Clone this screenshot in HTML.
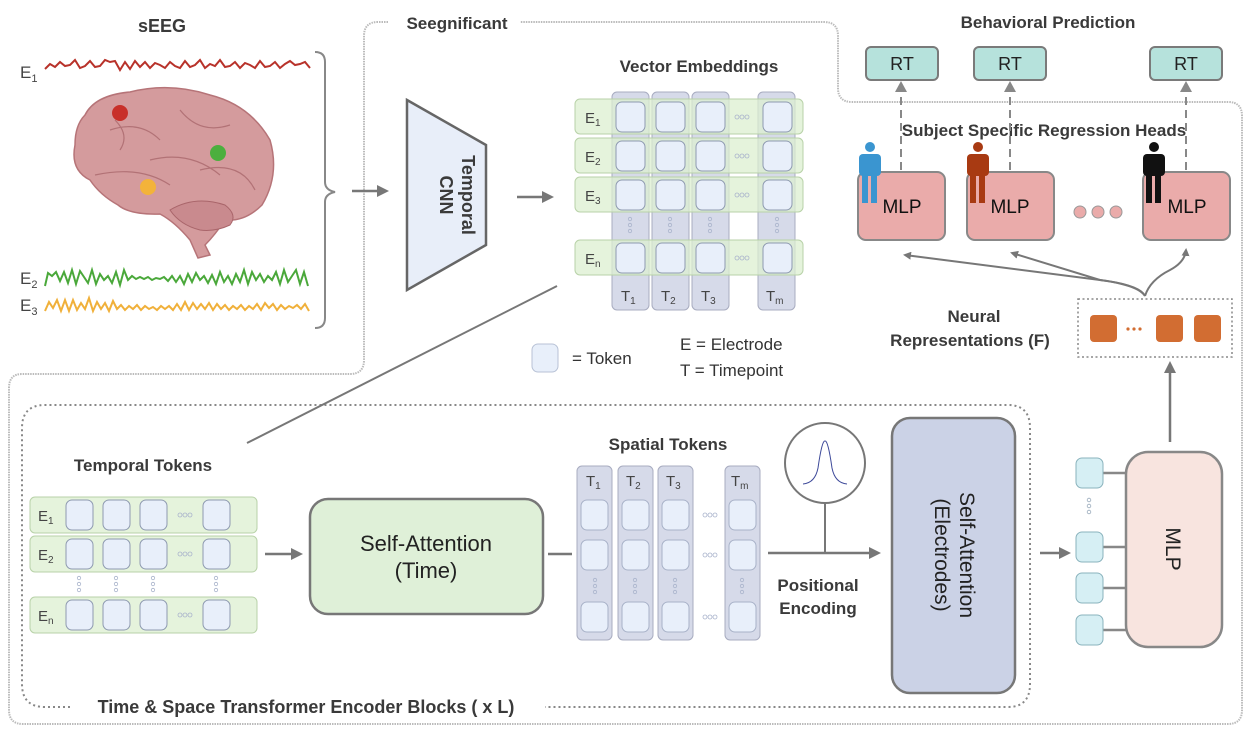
<!DOCTYPE html>
<html><head><meta charset="utf-8"><style>
html,body{margin:0;padding:0;background:#fff;}
svg{display:block;font-family:"Liberation Sans",sans-serif;}
.b{font-weight:bold;fill:#3a3a3a;}
</style></head><body>
<svg width="1252" height="745" viewBox="0 0 1252 745" xmlns="http://www.w3.org/2000/svg">
<defs>
<marker id="ar" markerWidth="8" markerHeight="8" refX="6" refY="4" orient="auto" markerUnits="userSpaceOnUse"><path d="M0,0 L8,4 L0,8 z" fill="#777"/></marker>
<marker id="ar2" markerWidth="12" markerHeight="12" refX="9" refY="6" orient="auto" markerUnits="userSpaceOnUse"><path d="M0,0 L12,6 L0,12 z" fill="#777"/></marker>
</defs>
<!-- outer frame -->
<path d="M388,22 L378,22 Q364,22 364,36 L364,360 Q364,374 350,374 L22,374 Q9,374 9,388 L9,710 Q9,724 23,724 L1228,724 Q1242,724 1242,710 L1242,116 Q1242,102 1228,102 L852,102 Q838,102 838,88 L838,36 Q838,22 824,22 L520,22" fill="none" stroke="#bbb" stroke-width="2" stroke-dasharray="1.5,1"/>
<text x="457" y="29" class="b" font-size="17" text-anchor="middle">Seegnificant</text>
<!-- inner dotted frame -->
<path d="M70,707 L45,707 Q22,707 22,684 L22,428 Q22,405 45,405 L1008,405 Q1030,405 1030,428 L1030,684 Q1030,707 1008,707 L545,707" fill="none" stroke="#888" stroke-width="2" stroke-dasharray="2,3"/>
<text x="306" y="713" class="b" font-size="18" text-anchor="middle">Time &amp; Space Transformer Encoder Blocks ( x L)</text>

<!-- sEEG -->
<text x="162" y="32" class="b" font-size="18" text-anchor="middle">sEEG</text>
<text x="20" y="78" font-size="17" fill="#444">E<tspan font-size="11" dy="4">1</tspan></text>
<text x="20" y="284" font-size="17" fill="#444">E<tspan font-size="11" dy="4">2</tspan></text>
<text x="20" y="311" font-size="17" fill="#444">E<tspan font-size="11" dy="4">3</tspan></text>
<polyline fill="none" stroke="#b8322a" stroke-width="2" points="45,69 50,64 55,67 60,62 65,66 70,65 75,60 80,68 85,66 90,61 95,67 100,66 105,60 110,62 115,61 120,70 125,62 130,69 135,61 140,67 145,62 150,68 155,63 160,65 165,68 170,62 175,66 180,68 185,61 190,67 195,65 200,60 205,68 210,64 215,66 220,60 225,67 230,66 235,62 240,68 245,63 250,65 255,68 260,61 265,67 270,66 275,62 280,68 285,64 290,61 295,65 300,64 305,62 310,68"/>
<polyline fill="none" stroke="#4aa83a" stroke-width="2" points="45,286 48,273 52,276 56,272 60,281 64,272 68,283 72,270 76,284 80,271 84,277 88,283 92,270 96,284 100,274 104,280 108,276 112,283 116,272 120,285 124,270 128,280 132,276 136,279 140,277 144,279 148,277 152,280 156,278 160,279 164,277 168,281 172,276 176,282 180,276 184,284 188,274 192,282 196,273 200,280 204,276 208,283 212,275 216,284 220,272 224,282 228,276 232,284 236,274 240,282 244,270 248,284 252,272 256,280 260,274 264,282 268,276 272,280 276,272 280,284 284,270 288,282 292,276 296,270 300,284 304,272 308,286"/>
<polyline fill="none" stroke="#f0b03a" stroke-width="2" points="45,311 49,302 53,308 57,300 61,311 65,300 69,311 73,300 77,310 81,303 85,309 89,298 93,311 97,302 101,309 105,303 109,311 113,301 117,309 121,305 125,310 129,306 133,309 137,305 141,310 145,306 149,309 153,307 157,310 161,306 165,309 169,306 173,310 177,304 181,310 185,302 189,310 193,303 197,309 201,304 205,309 209,303 213,310 217,304 221,309 225,305 229,310 233,306 237,309 241,305 245,310 249,306 253,309 257,304 261,310 265,303 269,308 273,304 277,310 281,305 285,309 289,306 293,308 297,305 301,309 305,304 309,311"/>
<!-- brain -->
<g>
<path d="M85,115 Q95,95 130,92 Q170,82 210,95 Q250,105 270,140 Q280,175 262,205 Q245,222 225,220 Q215,235 205,245 L210,255 L198,258 L190,240 Q175,222 160,214 Q130,215 118,205 Q100,195 90,180 Q70,170 75,145 Q75,125 85,115 Z" fill="#d49b9d" stroke="#b67478" stroke-width="1.5"/>
<path d="M170,210 Q195,195 225,205 Q238,215 230,225 Q215,232 200,230 Q180,225 170,210 Z" fill="#c98a8e" stroke="#a9656a" stroke-width="1"/>
<path d="M95,175 Q140,165 170,185 M110,130 Q140,120 160,140 M180,110 Q200,135 230,125 M150,160 Q190,150 220,175 M120,150 Q130,135 115,120 M200,170 Q240,160 255,190" fill="none" stroke="#b27276" stroke-width="1.2"/>
<circle cx="120" cy="113" r="8" fill="#c8302a"/>
<circle cx="218" cy="153" r="8" fill="#4caf3e"/>
<circle cx="148" cy="187" r="8" fill="#f3b33a"/>
</g>
<!-- brace -->
<path d="M315,52 Q325,52 325,62 L325,182 Q325,190 335,192 Q325,194 325,202 L325,318 Q325,328 315,328" fill="none" stroke="#888" stroke-width="2"/>
<line x1="352" y1="191" x2="386" y2="191" stroke="#777" stroke-width="2.5" marker-end="url(#ar2)"/>
<!-- CNN -->
<path d="M407,100 L486,145 L486,245 L407,290 Z" fill="#e8eef9" stroke="#666" stroke-width="2.5"/>
<text transform="translate(462,195) rotate(90)" class="b" font-size="18" text-anchor="middle">Temporal</text>
<text transform="translate(440,195) rotate(90)" class="b" font-size="18" text-anchor="middle">CNN</text>
<line x1="517" y1="197" x2="551" y2="197" stroke="#777" stroke-width="2.5" marker-end="url(#ar2)"/>

<!-- vector embeddings -->
<text x="699" y="72" class="b" font-size="17" text-anchor="middle">Vector Embeddings</text>
<g fill="#d6dae9" stroke="#a8acc0" stroke-width="1">
<rect x="612" y="92" width="37" height="218" rx="5"/>
<rect x="652" y="92" width="37" height="218" rx="5"/>
<rect x="692" y="92" width="37" height="218" rx="5"/>
<rect x="758" y="92" width="37" height="218" rx="5"/>
</g>
<g fill="#dcefd0" fill-opacity="0.75" stroke="#b8d2a8" stroke-width="1">
<rect x="575" y="99" width="228" height="35" rx="5"/>
<rect x="575" y="138" width="228" height="35" rx="5"/>
<rect x="575" y="177" width="228" height="35" rx="5"/>
<rect x="575" y="240" width="228" height="35" rx="5"/>
</g>
<g fill="#e8effa" stroke="#8e9ab0" stroke-width="1">
<rect x="616" y="102" width="29" height="30" rx="6"/><rect x="656" y="102" width="29" height="30" rx="6"/><rect x="696" y="102" width="29" height="30" rx="6"/><rect x="763" y="102" width="29" height="30" rx="6"/>
<rect x="616" y="141" width="29" height="30" rx="6"/><rect x="656" y="141" width="29" height="30" rx="6"/><rect x="696" y="141" width="29" height="30" rx="6"/><rect x="763" y="141" width="29" height="30" rx="6"/>
<rect x="616" y="180" width="29" height="30" rx="6"/><rect x="656" y="180" width="29" height="30" rx="6"/><rect x="696" y="180" width="29" height="30" rx="6"/><rect x="763" y="180" width="29" height="30" rx="6"/>
<rect x="616" y="243" width="29" height="30" rx="6"/><rect x="656" y="243" width="29" height="30" rx="6"/><rect x="696" y="243" width="29" height="30" rx="6"/><rect x="763" y="243" width="29" height="30" rx="6"/>
</g>
<g font-size="15" fill="#444">
<text x="585" y="123">E<tspan font-size="10" dy="3">1</tspan></text>
<text x="585" y="162">E<tspan font-size="10" dy="3">2</tspan></text>
<text x="585" y="201">E<tspan font-size="10" dy="3">3</tspan></text>
<text x="585" y="264">E<tspan font-size="10" dy="3">n</tspan></text>
<text x="621" y="301">T<tspan font-size="10" dy="3">1</tspan></text>
<text x="661" y="301">T<tspan font-size="10" dy="3">2</tspan></text>
<text x="701" y="301">T<tspan font-size="10" dy="3">3</tspan></text>
<text x="766" y="301">T<tspan font-size="10" dy="3">m</tspan></text>
</g>
<g fill="none" stroke="#aab4cc" stroke-width="0.8">
<circle cx="737" cy="117" r="2"/><circle cx="742" cy="117" r="2"/><circle cx="747" cy="117" r="2"/>
<circle cx="737" cy="156" r="2"/><circle cx="742" cy="156" r="2"/><circle cx="747" cy="156" r="2"/>
<circle cx="737" cy="195" r="2"/><circle cx="742" cy="195" r="2"/><circle cx="747" cy="195" r="2"/>
<circle cx="737" cy="258" r="2"/><circle cx="742" cy="258" r="2"/><circle cx="747" cy="258" r="2"/>
<circle cx="630" cy="219" r="1.7"/><circle cx="630" cy="225" r="1.7"/><circle cx="630" cy="231" r="1.7"/>
<circle cx="670" cy="219" r="1.7"/><circle cx="670" cy="225" r="1.7"/><circle cx="670" cy="231" r="1.7"/>
<circle cx="710" cy="219" r="1.7"/><circle cx="710" cy="225" r="1.7"/><circle cx="710" cy="231" r="1.7"/>
<circle cx="777" cy="219" r="1.7"/><circle cx="777" cy="225" r="1.7"/><circle cx="777" cy="231" r="1.7"/>
</g>
<rect x="532" y="344" width="26" height="28" rx="6" fill="#e8effa" stroke="#b8c2d6"/>
<text x="572" y="364" font-size="17" fill="#333">= Token</text>
<text x="680" y="350" font-size="17" fill="#333">E = Electrode</text>
<text x="680" y="376" font-size="17" fill="#333">T = Timepoint</text>
<line x1="557" y1="286" x2="247" y2="443" stroke="#777" stroke-width="2"/>

<!-- temporal tokens -->
<text x="143" y="471" class="b" font-size="17" text-anchor="middle">Temporal Tokens</text>
<g fill="#dcefd0" fill-opacity="0.75" stroke="#b8d2a8">
<rect x="30" y="497" width="227" height="36" rx="5"/>
<rect x="30" y="536" width="227" height="36" rx="5"/>
<rect x="30" y="597" width="227" height="36" rx="5"/>
</g>
<g fill="#e8effa" stroke="#8e9ab0">
<rect x="66" y="500" width="27" height="30" rx="6"/><rect x="103" y="500" width="27" height="30" rx="6"/><rect x="140" y="500" width="27" height="30" rx="6"/><rect x="203" y="500" width="27" height="30" rx="6"/>
<rect x="66" y="539" width="27" height="30" rx="6"/><rect x="103" y="539" width="27" height="30" rx="6"/><rect x="140" y="539" width="27" height="30" rx="6"/><rect x="203" y="539" width="27" height="30" rx="6"/>
<rect x="66" y="600" width="27" height="30" rx="6"/><rect x="103" y="600" width="27" height="30" rx="6"/><rect x="140" y="600" width="27" height="30" rx="6"/><rect x="203" y="600" width="27" height="30" rx="6"/>
</g>
<g font-size="15" fill="#444">
<text x="38" y="521">E<tspan font-size="10" dy="3">1</tspan></text>
<text x="38" y="560">E<tspan font-size="10" dy="3">2</tspan></text>
<text x="38" y="621">E<tspan font-size="10" dy="3">n</tspan></text>
</g>
<g fill="none" stroke="#aab4cc" stroke-width="0.8">
<circle cx="180" cy="515" r="2"/><circle cx="185" cy="515" r="2"/><circle cx="190" cy="515" r="2"/>
<circle cx="180" cy="554" r="2"/><circle cx="185" cy="554" r="2"/><circle cx="190" cy="554" r="2"/>
<circle cx="180" cy="615" r="2"/><circle cx="185" cy="615" r="2"/><circle cx="190" cy="615" r="2"/>
<circle cx="79" cy="578" r="1.7"/><circle cx="79" cy="584" r="1.7"/><circle cx="79" cy="590" r="1.7"/>
<circle cx="116" cy="578" r="1.7"/><circle cx="116" cy="584" r="1.7"/><circle cx="116" cy="590" r="1.7"/>
<circle cx="153" cy="578" r="1.7"/><circle cx="153" cy="584" r="1.7"/><circle cx="153" cy="590" r="1.7"/>
<circle cx="216" cy="578" r="1.7"/><circle cx="216" cy="584" r="1.7"/><circle cx="216" cy="590" r="1.7"/>
</g>
<line x1="265" y1="554" x2="300" y2="554" stroke="#777" stroke-width="2.5" marker-end="url(#ar2)"/>
<rect x="310" y="499" width="233" height="115" rx="18" fill="#dff0d8" stroke="#777" stroke-width="2.5"/>
<text x="426" y="551" font-size="22" fill="#222" text-anchor="middle">Self-Attention</text>
<text x="426" y="578" font-size="22" fill="#222" text-anchor="middle">(Time)</text>
<line x1="548" y1="554" x2="572" y2="554" stroke="#777" stroke-width="2.5"/>

<!-- spatial tokens -->
<text x="668" y="450" class="b" font-size="17" text-anchor="middle">Spatial Tokens</text>
<g fill="#d6dae9" stroke="#a8acc0">
<rect x="577" y="466" width="35" height="174" rx="5"/>
<rect x="618" y="466" width="35" height="174" rx="5"/>
<rect x="658" y="466" width="35" height="174" rx="5"/>
<rect x="725" y="466" width="35" height="174" rx="5"/>
</g>
<g fill="#e8effa" stroke="#a8b2c8">
<rect x="581" y="500" width="27" height="30" rx="6"/><rect x="622" y="500" width="27" height="30" rx="6"/><rect x="662" y="500" width="27" height="30" rx="6"/><rect x="729" y="500" width="27" height="30" rx="6"/>
<rect x="581" y="540" width="27" height="30" rx="6"/><rect x="622" y="540" width="27" height="30" rx="6"/><rect x="662" y="540" width="27" height="30" rx="6"/><rect x="729" y="540" width="27" height="30" rx="6"/>
<rect x="581" y="602" width="27" height="30" rx="6"/><rect x="622" y="602" width="27" height="30" rx="6"/><rect x="662" y="602" width="27" height="30" rx="6"/><rect x="729" y="602" width="27" height="30" rx="6"/>
</g>
<g font-size="15" fill="#444">
<text x="586" y="486">T<tspan font-size="10" dy="3">1</tspan></text>
<text x="626" y="486">T<tspan font-size="10" dy="3">2</tspan></text>
<text x="666" y="486">T<tspan font-size="10" dy="3">3</tspan></text>
<text x="731" y="486">T<tspan font-size="10" dy="3">m</tspan></text>
</g>
<g fill="none" stroke="#aab4cc" stroke-width="0.8">
<circle cx="705" cy="515" r="2"/><circle cx="710" cy="515" r="2"/><circle cx="715" cy="515" r="2"/>
<circle cx="705" cy="555" r="2"/><circle cx="710" cy="555" r="2"/><circle cx="715" cy="555" r="2"/>
<circle cx="705" cy="617" r="2"/><circle cx="710" cy="617" r="2"/><circle cx="715" cy="617" r="2"/>
<circle cx="595" cy="580" r="1.7"/><circle cx="595" cy="586" r="1.7"/><circle cx="595" cy="592" r="1.7"/>
<circle cx="635" cy="580" r="1.7"/><circle cx="635" cy="586" r="1.7"/><circle cx="635" cy="592" r="1.7"/>
<circle cx="675" cy="580" r="1.7"/><circle cx="675" cy="586" r="1.7"/><circle cx="675" cy="592" r="1.7"/>
<circle cx="742" cy="580" r="1.7"/><circle cx="742" cy="586" r="1.7"/><circle cx="742" cy="592" r="1.7"/>
</g>
<line x1="768" y1="553" x2="878" y2="553" stroke="#777" stroke-width="2.5" marker-end="url(#ar2)"/>
<line x1="825" y1="502" x2="825" y2="553" stroke="#777" stroke-width="2"/>
<circle cx="825" cy="463" r="40" fill="#fff" stroke="#777" stroke-width="2"/>
<path d="M803,484 Q815,483 818,468 Q822,440 825,441 Q828,440 832,468 Q835,483 847,484" fill="none" stroke="#3e4a9a" stroke-width="1"/>
<text x="818" y="591" class="b" font-size="17" text-anchor="middle">Positional</text>
<text x="818" y="614" class="b" font-size="17" text-anchor="middle">Encoding</text>
<rect x="892" y="418" width="123" height="275" rx="18" fill="#cbd2e6" stroke="#777" stroke-width="2.5"/>
<text transform="translate(960,555) rotate(90)" font-size="21" fill="#222" text-anchor="middle">Self-Attention</text>
<text transform="translate(935,555) rotate(90)" font-size="21" fill="#222" text-anchor="middle">(Electrodes)</text>
<line x1="1040" y1="553" x2="1068" y2="553" stroke="#777" stroke-width="2.5" marker-end="url(#ar2)"/>

<!-- final MLP -->
<g stroke="#888" stroke-width="2.5">
<line x1="1103" y1="473" x2="1126" y2="473"/><line x1="1103" y1="547" x2="1126" y2="547"/><line x1="1103" y1="588" x2="1126" y2="588"/><line x1="1103" y1="630" x2="1126" y2="630"/>
</g>
<g fill="#d6eff4" stroke="#8ab3bd">
<rect x="1076" y="458" width="27" height="30" rx="6"/><rect x="1076" y="532" width="27" height="30" rx="6"/><rect x="1076" y="573" width="27" height="30" rx="6"/><rect x="1076" y="615" width="27" height="30" rx="6"/>
</g>
<g fill="none" stroke="#99aabb" stroke-width="0.8"><circle cx="1089" cy="500" r="1.8"/><circle cx="1089" cy="506" r="1.8"/><circle cx="1089" cy="512" r="1.8"/></g>
<rect x="1126" y="452" width="96" height="195" rx="22" fill="#f8e4df" stroke="#888" stroke-width="2.5"/>
<text transform="translate(1166,549) rotate(90)" font-size="21" fill="#222" text-anchor="middle">MLP</text>
<line x1="1170" y1="442" x2="1170" y2="364" stroke="#777" stroke-width="2.5" marker-end="url(#ar2)"/>

<!-- neural representations -->
<rect x="1078" y="299" width="154" height="58" fill="none" stroke="#888" stroke-width="1.5" stroke-dasharray="2,2.5"/>
<g fill="#d26d32"><rect x="1090" y="315" width="27" height="27" rx="4"/><rect x="1156" y="315" width="27" height="27" rx="4"/><rect x="1194" y="315" width="27" height="27" rx="4"/></g>
<g fill="#d26d32"><circle cx="1128" cy="329" r="1.6"/><circle cx="1134" cy="329" r="1.6"/><circle cx="1140" cy="329" r="1.6"/></g>
<text x="974" y="322" class="b" font-size="17" text-anchor="middle">Neural</text>
<text x="970" y="346" class="b" font-size="17" text-anchor="middle">Representations (F)</text>
<g fill="none" stroke="#777" stroke-width="2">
<path d="M1145,296 Q1140,285 1100,280 L905,255" marker-end="url(#ar)"/>
<path d="M1145,296 Q1138,285 1100,280 L1012,253" marker-end="url(#ar)"/>
<path d="M1145,296 Q1150,280 1170,270 Q1185,262 1186,250" marker-end="url(#ar)"/>
</g>

<!-- regression heads -->
<text x="1048" y="28" class="b" font-size="17" text-anchor="middle">Behavioral Prediction</text>
<text x="1044" y="136" class="b" font-size="17" text-anchor="middle">Subject Specific Regression Heads</text>
<g fill="#b6e2dc" stroke="#7a7a7a" stroke-width="2">
<rect x="866" y="47" width="72" height="33" rx="5"/><rect x="974" y="47" width="72" height="33" rx="5"/><rect x="1150" y="47" width="72" height="33" rx="5"/>
</g>
<g font-size="18" fill="#222" text-anchor="middle"><text x="902" y="70">RT</text><text x="1010" y="70">RT</text><text x="1186" y="70">RT</text></g>
<g stroke="#888" stroke-width="2" stroke-dasharray="8,5">
<line x1="901" y1="170" x2="901" y2="86"/><line x1="1010" y1="170" x2="1010" y2="86"/><line x1="1186" y1="170" x2="1186" y2="86"/>
</g>
<g fill="#888"><path d="M895,92 L901,81 L907,92 z"/><path d="M1004,92 L1010,81 L1016,92 z"/><path d="M1180,92 L1186,81 L1192,92 z"/></g>
<g fill="#eaabaa" stroke="#888" stroke-width="2">
<rect x="858" y="172" width="87" height="68" rx="8"/><rect x="967" y="172" width="87" height="68" rx="8"/><rect x="1143" y="172" width="87" height="68" rx="8"/>
</g>
<g font-size="19" fill="#111" text-anchor="middle"><text x="902" y="213">MLP</text><text x="1010" y="213">MLP</text><text x="1187" y="213">MLP</text></g>
<g fill="#eaabaa" stroke="#999"><circle cx="1080" cy="212" r="6"/><circle cx="1098" cy="212" r="6"/><circle cx="1116" cy="212" r="6"/></g>
<!-- persons -->
<g fill="#3a95d0"><circle cx="870" cy="147" r="5"/><rect x="859" y="154" width="22" height="22" rx="4"/><rect x="862" y="172" width="6" height="31"/><rect x="871" y="172" width="6" height="31"/></g>
<g fill="#a83a12"><circle cx="978" cy="147" r="5"/><rect x="967" y="154" width="22" height="22" rx="4"/><rect x="970" y="172" width="6" height="31"/><rect x="979" y="172" width="6" height="31"/></g>
<g fill="#111"><circle cx="1154" cy="147" r="5"/><rect x="1143" y="154" width="22" height="22" rx="4"/><rect x="1146" y="172" width="6" height="31"/><rect x="1155" y="172" width="6" height="31"/></g>
</svg>
</body></html>
